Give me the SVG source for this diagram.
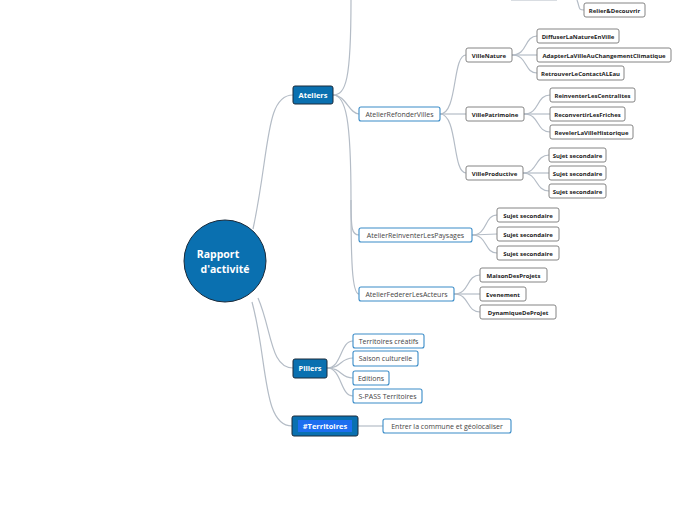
<svg xmlns="http://www.w3.org/2000/svg" width="696" height="520" viewBox="0 0 696 520">
<style>
text{font-family:"Open Sans","Noto Sans",sans-serif;}
.c{fill:none;stroke:#b4bcc6;stroke-width:1.2}
.m{fill:#0a70b0;stroke:#1a2a3a;stroke-width:1}
.mt{fill:#fff;font-size:7.5px;font-weight:bold;text-anchor:middle}
.s{fill:#fff;stroke:#3a8cc8;stroke-width:1.1}
.st{fill:#444;font-size:7px;text-anchor:middle}
.l{fill:#fff;stroke:#777;stroke-width:0.9}
.lt{fill:#222;font-size:6px;font-weight:bold;text-anchor:middle}
</style>
<rect width="696" height="520" fill="#fff"/>
<g id="connectors">
<path class="c" d="M253,229 C270,150 265,95 293,95"/>
<path class="c" d="M258,298 C272,330 270,368 293,368"/>
<path class="c" d="M252,302 C268,360 262,426 292,426"/>
<path class="c" d="M333,95 C346,95 351,80 351,0"/>
<path class="c" d="M333,95 C346,95 349,114 359,114"/>
<path class="c" d="M333,95 C346,95 351,120 351,200 C351,230 352,235 359,235"/>
<path class="c" d="M351,200 C351,260 352,294 359,294"/>
<path class="c" d="M327,368 C342,368 340,341 353,341"/>
<path class="c" d="M327,368 C342,368 340,358 353,358"/>
<path class="c" d="M327,368 C342,368 340,378 353,378"/>
<path class="c" d="M327,368 C342,368 340,396 353,396"/>
<path class="c" d="M358,426 L383,426"/>
<path class="c" d="M440,114 C458,114 452,55 466,55"/>
<path class="c" d="M440,114 L466,114"/>
<path class="c" d="M440,114 C458,114 452,173 466,173"/>
<path class="c" d="M512,55 C528,55 524,36 537,36"/>
<path class="c" d="M512,55 L537,55"/>
<path class="c" d="M512,55 C528,55 524,73 537,73"/>
<path class="c" d="M524,114 C540,114 536,95 550,95"/>
<path class="c" d="M524,114 L550,114"/>
<path class="c" d="M524,114 C540,114 536,132 550,132"/>
<path class="c" d="M523,173 C538,173 535,155 549,155"/>
<path class="c" d="M523,173 L549,173"/>
<path class="c" d="M523,173 C538,173 535,191 549,191"/>
<path class="c" d="M472,235 C488,235 484,215 497,215"/>
<path class="c" d="M472,235 L497,234"/>
<path class="c" d="M472,235 C488,235 484,253 497,253"/>
<path class="c" d="M454,294 C470,294 466,275 480,275"/>
<path class="c" d="M454,294 L480,294"/>
<path class="c" d="M454,294 C470,294 466,312 480,312"/>
<path class="c" d="M577,0 C580,8 578,10 584,10"/>
<path class="c" d="M511,0 L557,0"/>
</g>
<g id="root"><circle cx="225" cy="261" r="41" fill="#0a70b0" stroke="#1a2a3a" stroke-width="1"/>
<text x="218" y="258" fill="#fff" font-size="10.5" font-weight="bold" text-anchor="middle">Rapport</text>
<text x="225" y="273" fill="#fff" font-size="10.5" font-weight="bold" text-anchor="middle">d'activité</text></g>
<g id="ateliers"><rect class="m" x="293" y="86" width="40" height="18" rx="2"/><text class="mt" x="313" y="98">Ateliers</text></g>
<g id="piliers"><rect class="m" x="293" y="359" width="34" height="19" rx="2"/><text class="mt" x="310" y="371">Piliers</text></g>
<g id="territoires"><rect class="m" x="292" y="416" width="66" height="20" rx="2"/><rect x="298" y="420" width="54" height="12" fill="#1d6ef0"/><text class="mt" x="325" y="429">#Territoires</text></g>
<g id="refonder"><rect class="s" x="359" y="107" width="81" height="14" rx="2"/><text class="st" x="399.5" y="117">AtelierRefonderVilles</text></g>
<g id="paysages"><rect class="s" x="359" y="228" width="113" height="14" rx="2"/><text class="st" x="415.5" y="238">AtelierReinventerLesPaysages</text></g>
<g id="federer"><rect class="s" x="359" y="287" width="95" height="14" rx="2"/><text class="st" x="406.5" y="297">AtelierFedererLesActeurs</text></g>
<g id="p1"><rect class="s" x="353" y="334" width="71" height="14" rx="2"/><text class="st" x="388.5" y="344">Territoires créatifs</text></g>
<g id="p2"><rect class="s" x="353" y="351" width="65" height="15" rx="2"/><text class="st" x="385.5" y="361">Saison culturelle</text></g>
<g id="p3"><rect class="s" x="353" y="371" width="36" height="14" rx="2"/><text class="st" x="371" y="381">Editions</text></g>
<g id="p4"><rect class="s" x="353" y="389" width="69" height="14" rx="2"/><text class="st" x="387.5" y="399">S-PASS Territoires</text></g>
<g id="entrer"><rect class="s" x="383" y="419" width="128" height="14" rx="2" stroke="#7ab8e0"/><text class="st" x="447" y="429" fill="#666">Entrer la commune et géolocaliser</text></g>
<g id="vn"><rect class="l" x="466" y="48" width="46" height="14" rx="2"/><text class="lt" x="489" y="57.5">VilleNature</text></g>
<g id="vp"><rect class="l" x="466" y="107" width="58" height="14" rx="2"/><text class="lt" x="495" y="116.5">VillePatrimoine</text></g>
<g id="vpr"><rect class="l" x="466" y="166" width="57" height="14" rx="2"/><text class="lt" x="494.5" y="175.5">VilleProductive</text></g>
<g id="n1"><rect class="l" x="537" y="29" width="82" height="14" rx="2"/><text class="lt" x="578" y="38.5">DiffuserLaNatureEnVille</text></g>
<g id="n2"><rect class="l" x="537" y="48" width="134" height="14" rx="2"/><text class="lt" x="604" y="57.5">AdapterLaVilleAuChangementClimatique</text></g>
<g id="n3"><rect class="l" x="537" y="66" width="87" height="14" rx="2"/><text class="lt" x="580.5" y="75.5">RetrouverLeContactALEau</text></g>
<g id="h1"><rect class="l" x="550" y="88" width="85" height="14" rx="2"/><text class="lt" x="592.5" y="97.5">ReinventerLesCentralites</text></g>
<g id="h2"><rect class="l" x="550" y="107" width="75" height="14" rx="2"/><text class="lt" x="587.5" y="116.5">ReconvertirLesFriches</text></g>
<g id="h3"><rect class="l" x="550" y="125" width="83" height="14" rx="2"/><text class="lt" x="591.5" y="134.5">RevelerLaVilleHistorique</text></g>
<g id="q1"><rect class="l" x="549" y="148" width="57" height="14" rx="2"/><text class="lt" x="577.5" y="157.5">Sujet secondaire</text></g>
<g id="q2"><rect class="l" x="549" y="166" width="57" height="14" rx="2"/><text class="lt" x="577.5" y="175.5">Sujet secondaire</text></g>
<g id="q3"><rect class="l" x="549" y="184" width="57" height="14" rx="2"/><text class="lt" x="577.5" y="193.5">Sujet secondaire</text></g>
<g id="r1"><rect class="l" x="497" y="208" width="62" height="14" rx="2"/><text class="lt" x="528" y="217.5">Sujet secondaire</text></g>
<g id="r2"><rect class="l" x="497" y="227" width="62" height="14" rx="2"/><text class="lt" x="528" y="236.5">Sujet secondaire</text></g>
<g id="r3"><rect class="l" x="497" y="246" width="62" height="14" rx="2"/><text class="lt" x="528" y="255.5">Sujet secondaire</text></g>
<g id="f1"><rect class="l" x="480" y="268" width="67" height="14" rx="2"/><text class="lt" x="513.5" y="277.5">MaisonDesProjets</text></g>
<g id="f2"><rect class="l" x="480" y="287" width="46" height="14" rx="2"/><text class="lt" x="503" y="296.5">Evenement</text></g>
<g id="f3"><rect class="l" x="480" y="305" width="76" height="14" rx="2"/><text class="lt" x="518" y="314.5">DynamiqueDeProjet</text></g>
<g id="relier"><rect class="l" x="584" y="3" width="61" height="14" rx="2"/><text class="lt" x="614.5" y="12.5">Relier&amp;Decouvrir</text></g>
</svg>
